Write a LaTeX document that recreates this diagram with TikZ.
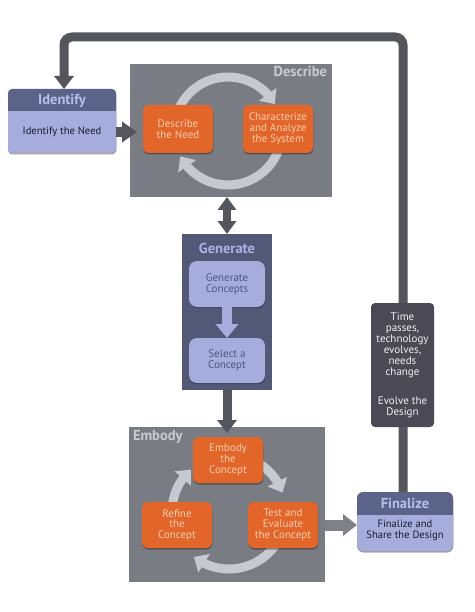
\documentclass[tikz,border=0pt]{standalone}
\usepackage{fontspec}
\setmainfont{PT Sans}
\usetikzlibrary{arrows.meta,bending,calc,shadows}
\definecolor{boxgray}{HTML}{7A7C84}
\definecolor{loopgray}{HTML}{55555E}
\definecolor{arcgray}{HTML}{C6C9CE}
\definecolor{orng}{HTML}{E2652A}
\definecolor{orngtxt}{HTML}{F9CDB0}
\definecolor{idhead}{HTML}{5B6389}
\definecolor{idbody}{HTML}{A6ADDD}
\definecolor{idheadtxt}{HTML}{B8BFEA}
\definecolor{genbox}{HTML}{535876}
\definecolor{genlbl}{HTML}{AAB2E6}
\definecolor{gentxt}{HTML}{4E5680}
\definecolor{timebox}{HTML}{4A4954}
\definecolor{lbl}{HTML}{C9CBD1}
\definecolor{lightarrow}{HTML}{7F8188}
\definecolor{darktxt}{HTML}{1B1B2B}
\begin{document}
\begin{tikzpicture}[x=1pt,y=-1pt,
  every node/.style={inner sep=0pt,outer sep=0pt},
  obox/.style={fill=orng,rounded corners=6pt,minimum width=70pt,minimum height=47pt,
    text=orngtxt,align=center,font=\fontsize{11}{10.8}\selectfont,
    drop shadow={shadow xshift=0.3pt,shadow yshift=-1.5pt,fill=black,opacity=0.35}},
  lbox/.style={fill=idbody,rounded corners=8pt,minimum width=76pt,
    text=gentxt,align=center,font=\fontsize{11}{10.8}\selectfont,
    drop shadow={shadow xshift=0.3pt,shadow yshift=-1.2pt,fill=black,opacity=0.3}},
  hdr/.style={font=\bfseries\fontsize{14.5}{14.5}\selectfont},
  bodytxt/.style={text=darktxt,align=center,font=\fontsize{10.6}{11}\selectfont},
  arcarr/.style={draw=arcgray,line width=9pt,-{Triangle[width=21pt,length=12pt,flex]}},
  looparr/.style={draw=loopgray,line width=9pt},
  darr/.style={draw=loopgray,line width=9pt}
]
\useasboundingbox (0,0) rectangle (474,612);
\fill[white] (0,0) rectangle (474,612);

% ---- main gray panels
\node[fill=boxgray,minimum width=202pt,minimum height=133pt] (desc) at (231,130.5) {};
\node[hdr,text=lbl,anchor=north east] (desclbl) at (327,66) {Describe};
\node[fill=boxgray,minimum width=196pt,minimum height=155pt] (emb) at (227,504.5) {};
\node[hdr,text=lbl,anchor=north west] (emblbl) at (133,430) {Embody};
\node[fill=genbox,minimum width=90pt,minimum height=156pt] (gen) at (227,312) {};
\node[hdr,text=genlbl] (genlbl) at (227,248) {Generate};

% ---- loop line
\coordinate (tr) at (403,37);
\coordinate (tl) at (64,37);
\node[fill=idhead,rounded corners=4pt,minimum width=108pt,minimum height=64pt,
  drop shadow={shadow xshift=0.3pt,shadow yshift=-1.5pt,fill=black,opacity=0.35}] (idbox) at (62,121) {};
\node[fill=idhead,rounded corners=6pt,minimum width=96pt,minimum height=59pt,
  drop shadow={shadow xshift=0.3pt,shadow yshift=-1.5pt,fill=black,opacity=0.35}] (fin) at (405,521.5) {};
\draw[looparr,rounded corners=8pt,-{Triangle[width=19pt,length=13pt]}]
  (fin.north -| tr) -- (tr) -- (tl) -- (tl |- idbox.north);

% ---- Identify box
\begin{scope}
  \clip ($(idbox.north west)+(-2,23)$) rectangle ($(idbox.south east)+(2,5)$);
  \fill[idbody,rounded corners=4pt] (idbox.north west) rectangle (idbox.south east);
\end{scope}
\node[hdr,text=idheadtxt] (idhdr) at (62,101) {Identify};
\node[bodytxt] (idtxt) at (62,132) {Identify the Need};

% ---- Finalize box
\begin{scope}
  \clip ($(fin.north west)+(-2,23)$) rectangle ($(fin.south east)+(2,5)$);
  \fill[idbody,rounded corners=6pt] (fin.north west) rectangle (fin.south east);
\end{scope}
\node[hdr,text=idheadtxt] (finhdr) at (405,503) {Finalize};
\node[bodytxt] (fintxt) at (405,530) {Finalize and\\Share the Design};

% ---- Time box
\node[fill=timebox,rounded corners=4pt,minimum width=63pt,minimum height=124pt,
  text=white!94!black,align=center,font=\fontsize{11}{11}\selectfont] (time) at (402.5,365)
  {Time\\passes,\\technology\\evolves,\\needs\\change\\[18pt]Evolve the\\Design};

% ---- Describe contents
\coordinate (c1) at (228,131);
\draw[arcarr] ($(c1)+(200:54)$) arc[start angle=200,end angle=330,radius=54];
\draw[arcarr] ($(c1)+(20:54)$) arc[start angle=20,end angle=152,radius=54];
\node[obox,minimum height=48pt] (dneed) at (178,129) {Describe\\the Need};
\node[obox,minimum height=48pt] (char) at (278,129) {Characterize\\and Analyze\\the System};

% ---- Embody contents
\coordinate (c2) at (229,512);
\draw[arcarr] ($(c2)+(300:57)$) arc[start angle=300,end angle=340,radius=57];
\draw[arcarr] ($(c2)+(30:57)$) arc[start angle=30,end angle=128,radius=57];
\draw[arcarr] ($(c2)+(185:57)$) arc[start angle=185,end angle=228,radius=57];
\node[obox,minimum height=46pt] (embc) at (228,460) {Embody\\the\\Concept};
\node[obox,minimum height=46pt] (refine) at (177,525) {Refine\\the\\Concept};
\node[obox,minimum height=46pt] (test) at (283,525) {Test and\\Evaluate\\the Concept};

% ---- Generate contents
\node[lbox,minimum height=46pt] (gc) at (227,284) {Generate\\Concepts};
\node[lbox,minimum height=45pt] (sc) at (227,360.5) {Select a\\Concept};
\draw[draw=idbody,line width=10pt,-{Triangle[width=22pt,length=14pt]}] (gc.south) -- (sc.north);

% ---- connectors
\draw[darr,line width=10pt,-{Triangle[width=20pt,length=15pt]},shorten >=6pt]
  (idbox.east |- idtxt) -- (dneed.west |- idtxt);
\draw[darr,line width=8pt,{Triangle[width=18pt,length=13pt]}-{Triangle[width=18pt,length=13pt]}]
  (gen.north |- desc.south) -- (gen.north);
\draw[darr,-{Triangle[width=19pt,length=13pt]},shorten >=-6pt]
  (gen.south) -- (gen.south |- emb.north);
\draw[draw=lightarrow,line width=11pt,-{Triangle[width=21pt,length=14pt]}]
  (emb.east |- test) -- (fin.west |- test);
\end{tikzpicture}
\end{document}
